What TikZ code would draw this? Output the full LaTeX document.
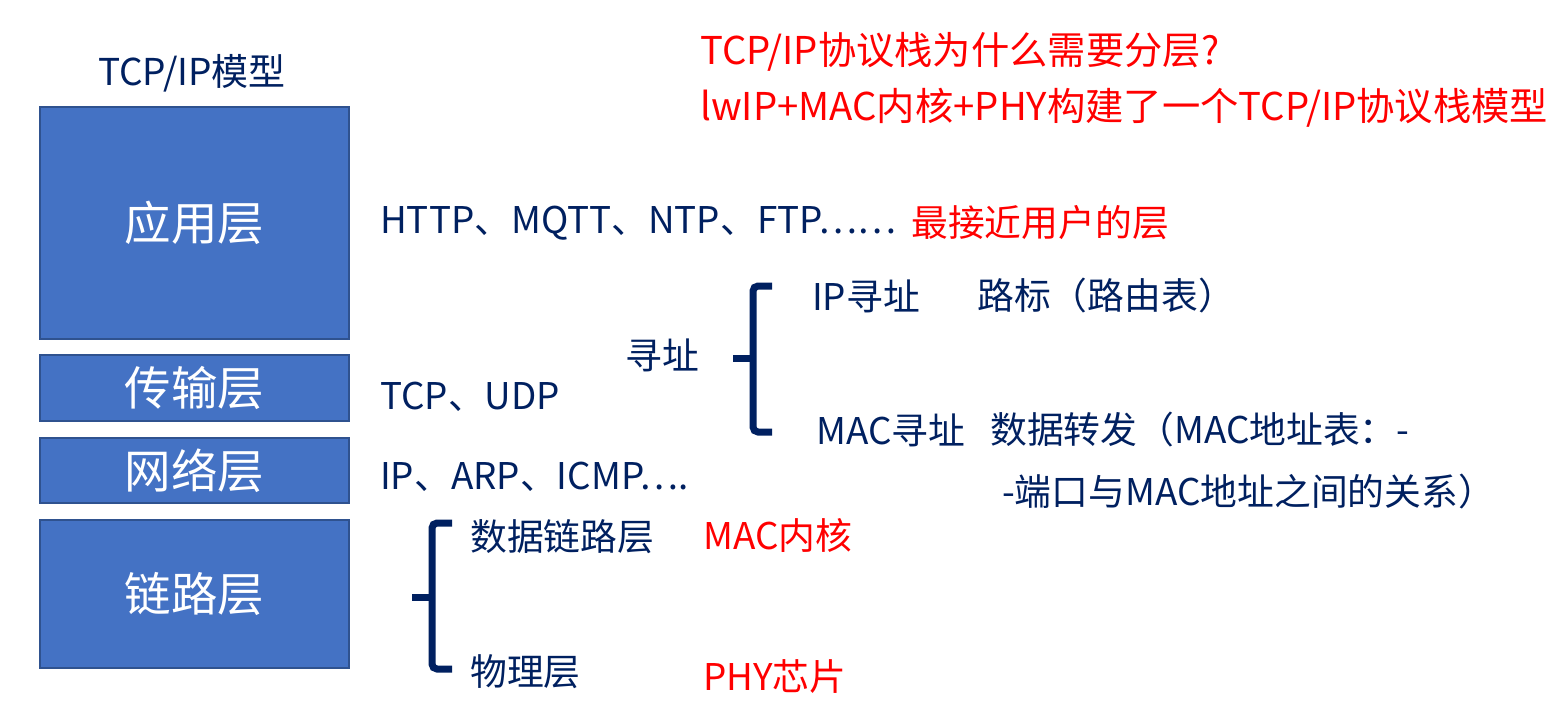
\documentclass[tikz,border=0pt]{standalone}
\usepackage{fontspec}
\setmainfont{Noto Sans CJK SC}
\definecolor{navy}{HTML}{002060}
\definecolor{boxfill}{HTML}{4472C4}
\definecolor{boxedge}{HTML}{2F528F}
\definecolor{hired}{HTML}{FF0000}
\begin{document}
\begin{tikzpicture}[x=1pt,y=-1pt,
  layer/.style={draw=boxedge, fill=boxfill, line width=2.5pt, text=white,
    font=\fontsize{46.5}{50}\selectfont, minimum width=309pt, inner sep=0pt},
  lbl/.style={anchor=west, text=navy, font=\fontsize{36.8}{40}\selectfont, inner sep=0pt},
  hl/.style={anchor=west, text=hired, font=\fontsize{36.8}{40}\selectfont, inner sep=0pt},
  hlq/.style={hl, font=\fontsize{38.3}{42}\selectfont},
  bracepath/.style={draw=navy, line width=7pt, rounded corners=5pt}]
\useasboundingbox (0,0) rectangle (1551,707);
% layer boxes
\node[layer, minimum height=232pt] (app) at (194.5,223) {应用层};
\node[layer, minimum height=66pt] (trans) at (194.5,388) {传输层};
\node[layer, minimum height=65pt] (net) at (194.5,470.5) {网络层};
\node[layer, minimum height=148pt] (link) at (194.5,594) {链路层};
\node[text=navy, font=\fontsize{37}{40}\selectfont, inner sep=0pt] (title) at (192,73) {TCP/IP模型};
% questions
\node[hlq] (q1) at (700,52) {TCP/IP协议栈为什么需要分层?};
\node[hlq] (q2) at (700,108) {lwIP+MAC内核+PHY构建了一个TCP/IP协议栈模型};
% protocol labels
\node[lbl] (http) at (380,223) {HTTP、MQTT、NTP、FTP……};
\node[hl] (near) at (911,223) {最接近用户的层};
\node[lbl] (tcpudp) at (380,397) {TCP、UDP};
\node[lbl] (iparp) at (380,477) {IP、ARP、ICMP….};
% addressing
\node[lbl] (xz) at (625,355) {寻址};
\node[lbl] (ipaddr) at (812,296) {IP寻址};
\node[lbl] (lubiao) at (977,296) {路标（路由表）};
\node[lbl] (macaddr) at (816,430) {MAC寻址};
\node[lbl] (fwd) at (990,430) {数据转发（MAC地址表：-};
\node[lbl] (fwd2) at (1002,492) {-端口与MAC地址之间的关系）};
% link sublayers
\node[lbl] (dll) at (470,537) {数据链路层};
\node[hl] (mac) at (703,535) {MAC内核};
\node[lbl] (phy) at (470,672) {物理层};
\node[hl] (phychip) at (703,677) {PHY芯片};
% braces
\coordinate (b1top) at (772,286);
\coordinate (b1mid) at (753,358);
\coordinate (b1bot) at (772,432);
\coordinate (b1tip) at (733,358);
\path[bracepath] (b1top) -| (b1mid) |- (b1bot);
\path[draw=navy, line width=7pt] (b1tip) -- (b1mid);
\coordinate (b2top) at (452,523);
\coordinate (b2mid) at (432,597);
\coordinate (b2bot) at (452,669);
\coordinate (b2tip) at (412,597);
\path[bracepath] (b2top) -| (b2mid) |- (b2bot);
\path[draw=navy, line width=7pt] (b2tip) -- (b2mid);
\end{tikzpicture}
\end{document}
